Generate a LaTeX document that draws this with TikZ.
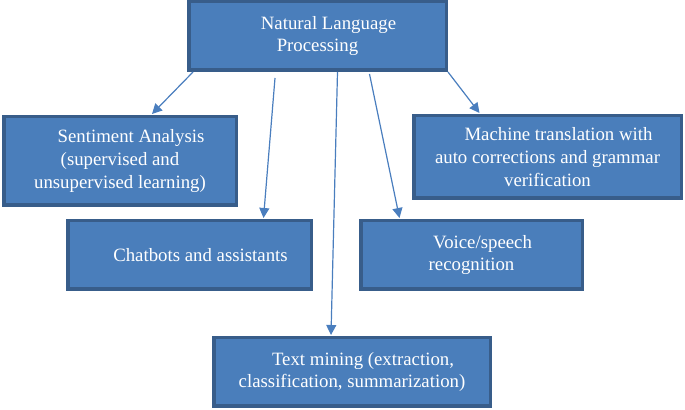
\documentclass[tikz,border=0pt]{standalone}
\usepackage{fontspec}
\setmainfont{Liberation Serif}
\newfontfamily\boxfont{Liberation Serif}
\usetikzlibrary{arrows.meta}
\definecolor{boxfill}{RGB}{74,126,187}
\definecolor{boxline}{RGB}{56,93,138}
\definecolor{linkblue}{RGB}{74,126,190}

\begin{document}
\begin{tikzpicture}[x=0.5pt, y=-0.5pt,
    task/.style={draw=boxline, fill=boxfill, line width=1.75pt, text=white,
      align=center, inner sep=0pt, font=\boxfont\fontsize{9.4}{11.3}\selectfont},
    >={Triangle[length=5pt,width=5pt]},
    link/.style={->, draw=linkblue, line width=0.6pt}]
\useasboundingbox (0,0) rectangle (685,410);

  % boxes
  \node[task, minimum width=128.75pt, minimum height=34.25pt] (nlp) at (317.5,36)
    {\hspace*{11pt}Natural Language\\Processing};
  \node[task, minimum width=116.25pt, minimum height=44.25pt] (sa) at (120,161)
    {\hspace*{11pt}Sentiment Analysis\\(supervised and\\unsupervised learning)};
  \node[task, minimum width=133.75pt, minimum height=41.25pt] (mt) at (547.5,157)
    {\hspace*{11pt}Machine translation with\\auto corrections and grammar\\verification};
  \node[task, minimum width=121.75pt, minimum height=34.25pt] (cb) at (189.5,255)
    {\hspace*{11pt}Chatbots and assistants};
  \node[task, minimum width=110.75pt, minimum height=34.25pt] (vr) at (471.5,255)
    {\hspace*{11pt}Voice/speech\\recognition};
  \node[task, minimum width=138.25pt, minimum height=34.25pt] (tm) at (352,372)
    {\hspace*{11pt}Text mining (extraction,\\classification, summarization)};

  % arrows
  \draw[link] ([xshift=3pt]nlp.south west) -- ([xshift=16pt, yshift=0.5pt]sa.north);
  \draw[link] ([xshift=44pt, yshift=-3pt]nlp.south west) -- ([xshift=37pt, yshift=0.5pt]cb.north);
  \draw[link] ([xshift=10pt]nlp.south) -- ([xshift=-10.5pt, yshift=0.5pt]tm.north);
  \draw[link] ([xshift=26pt, yshift=-1pt]nlp.south) -- ([xshift=-36pt, yshift=0.5pt]vr.north);
  \draw[link] (nlp.south east) -- ([xshift=-34pt, yshift=0.5pt]mt.north);
\end{tikzpicture}
\end{document}
